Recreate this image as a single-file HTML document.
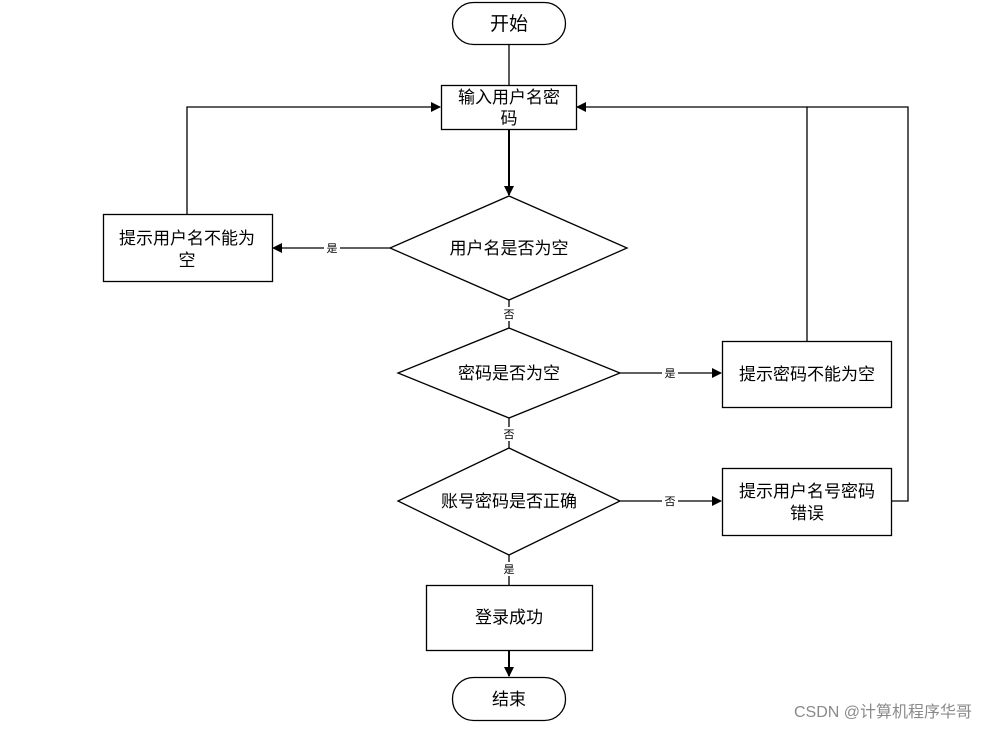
<!DOCTYPE html>
<html><head><meta charset="utf-8"><style>
html,body{margin:0;padding:0;background:#fff}
svg{display:block}
text{font-family:"Liberation Sans","Noto Sans CJK SC",sans-serif;fill:#000}
</style></head><body>
<svg width="988" height="729" viewBox="0 0 988 729" xmlns="http://www.w3.org/2000/svg">
<defs><marker id="a" markerWidth="10" markerHeight="10" refX="9" refY="5" orient="auto" markerUnits="userSpaceOnUse"><path d="M0,0 L10,5 L0,10 z" fill="#000"/></marker></defs>
<g stroke="#000" stroke-width="1.3" fill="none">
<rect x="452.5" y="2.5" width="113" height="42" rx="21" fill="#fff"/>
<line x1="509" y1="44" x2="509" y2="85"/>
<rect x="441.5" y="85.5" width="135" height="44" fill="#fff"/>
<line x1="509" y1="129" x2="509" y2="195" stroke-width="2" marker-end="url(#a)"/>
<polygon points="509,196 627,248 509,300 390,248" fill="#fff"/>
<rect x="103.5" y="214.5" width="169" height="67" fill="#fff"/>
<line x1="390" y1="248" x2="273" y2="248" marker-end="url(#a)"/>
<polyline points="187,214 187,107 440,107" marker-end="url(#a)"/>
<line x1="509" y1="300" x2="509" y2="328"/>
<polygon points="509,328 620,373 509,418 398,373" fill="#fff"/>
<rect x="722.5" y="341.5" width="169" height="66" fill="#fff"/>
<line x1="620" y1="373" x2="721" y2="373" marker-end="url(#a)"/>
<polyline points="807,341 807,107 577,107" marker-end="url(#a)"/>
<line x1="509" y1="418" x2="509" y2="448"/>
<polygon points="509,448 620,501 509,555 398,501" fill="#fff"/>
<rect x="722.5" y="468.5" width="169" height="67" fill="#fff"/>
<line x1="620" y1="501" x2="721" y2="501" marker-end="url(#a)"/>
<polyline points="891,501 908,501 908,107 807,107"/>
<line x1="509" y1="555" x2="509" y2="585"/>
<rect x="426.5" y="585.5" width="166" height="65" fill="#fff"/>
<line x1="509" y1="650" x2="509" y2="676" stroke-width="2" marker-end="url(#a)"/>
<rect x="452.5" y="677.5" width="113" height="43" rx="21" fill="#fff"/>
</g>
<g font-size="17" text-anchor="middle">
<text x="509" y="30" font-size="19">开始</text>
<text x="509" y="103">输入用户名密</text>
<text x="509" y="124">码</text>
<text x="509" y="254">用户名是否为空</text>
<text x="187" y="244">提示用户名不能为</text>
<text x="187" y="266">空</text>
<text x="509" y="379">密码是否为空</text>
<text x="807" y="380">提示密码不能为空</text>
<text x="509" y="507">账号密码是否正确</text>
<text x="807" y="497">提示用户名号密码</text>
<text x="807" y="519">错误</text>
<text x="509" y="623">登录成功</text>
<text x="509" y="705">结束</text>
</g>
<g font-size="11" text-anchor="middle">
<rect x="324" y="241" width="16" height="14" fill="#fff"/><text x="332" y="252">是</text>
<rect x="501" y="307" width="16" height="14" fill="#fff"/><text x="509" y="318">否</text>
<rect x="662" y="366" width="16" height="14" fill="#fff"/><text x="670" y="377">是</text>
<rect x="501" y="427" width="16" height="14" fill="#fff"/><text x="509" y="438">否</text>
<rect x="662" y="494" width="16" height="14" fill="#fff"/><text x="670" y="505">否</text>
<rect x="501" y="562" width="16" height="14" fill="#fff"/><text x="509" y="573">是</text>
</g>
<text x="972" y="717" font-size="16" text-anchor="end" style="fill:#8a8a8a">CSDN @计算机程序华哥</text>
</svg>
</body></html>
